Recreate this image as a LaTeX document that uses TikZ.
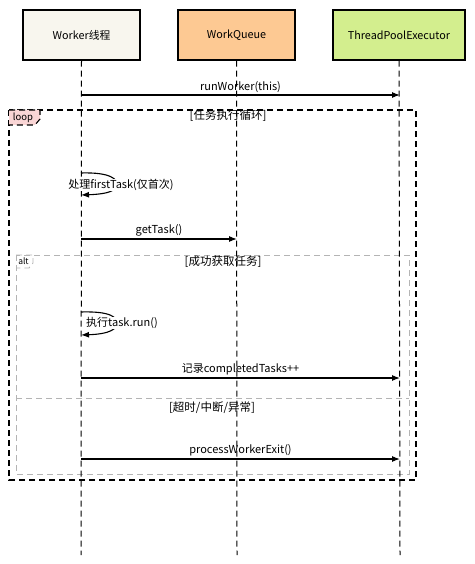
\documentclass[tikz,border=0pt]{standalone}
\usepackage{fontspec}
\setmainfont{Noto Sans CJK SC}
\usetikzlibrary{arrows.meta}
\definecolor{workerfill}{HTML}{F8F6EE}
\definecolor{queuefill}{HTML}{FDC993}
\definecolor{tpefill}{HTML}{D3EE8E}
\definecolor{loopfill}{HTML}{F9D5D5}
\definecolor{altgray}{HTML}{B4B4B4}
\tikzset{
  part/.style={draw=black, line width=1.1pt, minimum height=50pt, inner sep=0pt, font=\fontsize{10.8}{12}\selectfont},
  lifeline/.style={draw=black, line width=1pt, dash pattern=on 6pt off 4pt},
  msg/.style={draw=black, line width=1.1pt, -{Latex[length=8pt,width=6pt]}},
  msglabel/.style={font=\fontsize{11}{13}\selectfont, inner sep=1pt},
  loopframe/.style={draw=black, line width=1.1pt, dash pattern=on 6pt off 4pt},
  altframe/.style={draw=altgray, line width=1pt, dash pattern=on 6pt off 4pt},
  guard/.style={font=\fontsize{11.5}{13}\selectfont, inner sep=1pt},
}
\begin{document}
\begin{tikzpicture}[x=1pt,y=-1pt]
\useasboundingbox (0,0) rectangle (474,564);
% participants
\node[part, fill=workerfill, minimum width=117pt] (worker) at (81.5,35) {Worker线程};
\node[part, fill=queuefill, minimum width=117pt] (queue) at (236.5,35) {WorkQueue};
\node[part, fill=tpefill, minimum width=132pt] (tpe) at (399,35) {ThreadPoolExecutor};
% lifeline ends
\coordinate (wend) at (81,555);
\coordinate (qend) at (237,555);
\coordinate (tend) at (400,555);
% frames (drawn first)
\coordinate (loopA) at (9,110);
\coordinate (loopB) at (416,480);
\coordinate (altA) at (16,255);
\coordinate (altB) at (409,474);
\coordinate (sepA) at (16,398);
\coordinate (sepB) at (409,398);
\draw[altframe] (altA) rectangle (altB);
\draw[altframe] (sepA) -- (sepB);
\draw[loopframe] (loopA) rectangle (loopB);
% loop tab
\draw[loopframe, fill=loopfill] (9,110) -- (40,110) -- (40,119) -- (35,125) -- (9,125);
\node[font=\fontsize{9.5}{11}\selectfont, inner sep=0pt] (looplbl) at (23,117.5) {loop};
% alt tab
\draw[altframe, line width=0.9pt] (16,255) -- (33,255) -- (33,263) -- (29,268) -- (16,268);
\node[font=\fontsize{8.5}{10}\selectfont, inner sep=0pt] (altlbl) at (23.5,261.5) {alt};
% lifelines
\draw[lifeline] (worker.south) -- (wend);
\draw[lifeline] (queue.south) -- (qend);
\draw[lifeline] (tpe.south) -- (tend);
% guards
\node[guard] (g1) at (228,116) {[任务执行循环]};
\node[guard] (g2) at (223,262) {[成功获取任务]};
\node[guard] (g3) at (212,408) {[超时/中断/异常]};
% message coordinates
\coordinate (m1a) at (81,95);  \coordinate (m1b) at (400,95);
\coordinate (s1a) at (81,173); \coordinate (s1b) at (81,195);
\coordinate (m2a) at (81,239); \coordinate (m2b) at (237,239);
\coordinate (s2a) at (81,312); \coordinate (s2b) at (81,335);
\coordinate (m3a) at (81,378); \coordinate (m3b) at (400,378);
\coordinate (m4a) at (81,459); \coordinate (m4b) at (400,459);
% messages
\draw[msg] (m1a) -- node[msglabel, above=1pt] (l1) {runWorker(this)} (m1b);
\draw[msg] (s1a) .. controls (112,172) and (117,180) .. (117,184)
                 .. controls (117,190) and (110,194) .. (s1b);
\node[msglabel, fill=white, inner sep=0.5pt] (l2) at (121,185) {处理firstTask(仅首次)};
\draw[msg] (m2a) -- node[msglabel, above=1pt] (l3) {getTask()} (m2b);
\draw[msg] (s2a) .. controls (112,311) and (117,318) .. (117,323)
                 .. controls (117,329) and (110,334) .. (s2b);
\node[msglabel, fill=white, inner sep=0.5pt] (l4) at (122,323) {执行task.run()};
\draw[msg] (m3a) -- node[msglabel, above=1pt] (l5) {记录completedTasks++} (m3b);
\draw[msg] (m4a) -- node[msglabel, above=1pt] (l6) {processWorkerExit()} (m4b);
\end{tikzpicture}
\end{document}
